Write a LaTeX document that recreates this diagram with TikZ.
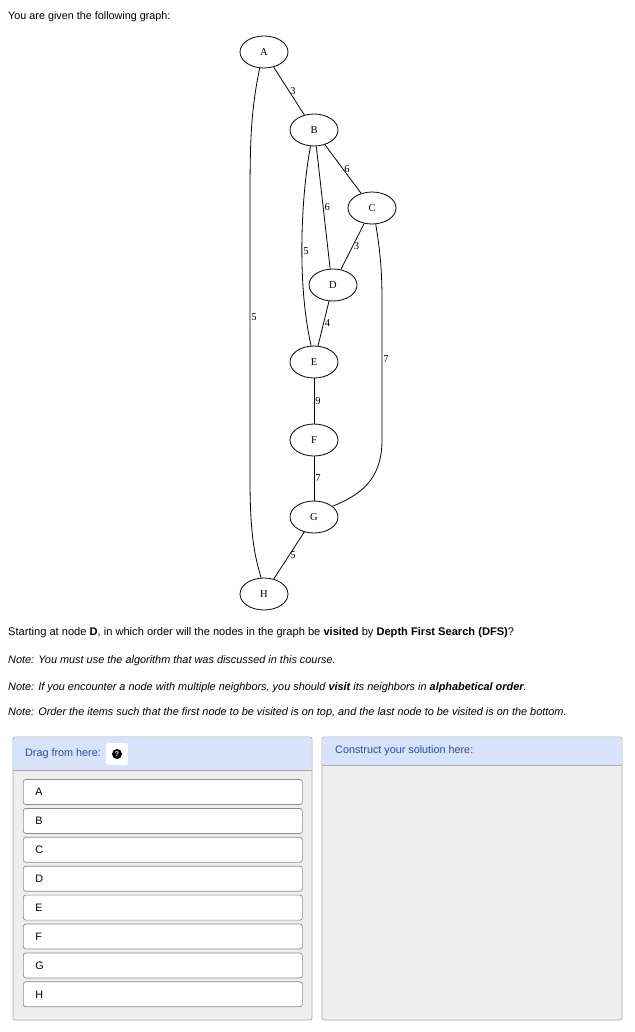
\documentclass[tikz,border=0pt]{standalone}
\usepackage{fontspec}
\setmainfont{Liberation Sans}
\newfontfamily\graphfont{Liberation Serif}
\usepackage{xcolor}
\usepackage{tikz}
\usetikzlibrary{shapes.geometric,positioning,calc}

\definecolor{hdrblue}{HTML}{D6E3FA}
\definecolor{hdrtext}{HTML}{2C4C9C}
\definecolor{panelgray}{HTML}{EEEEEE}
\definecolor{panelline}{HTML}{ABABAB}
\definecolor{itemline}{HTML}{8A8A8A}

\tikzset{
	gnode/.style={draw, ellipse, minimum width=48pt, minimum height=32pt, inner sep=0pt, line width=0.8pt, font=\graphfont\fontsize{10.5}{12}\selectfont},
	gedge/.style={line width=0.8pt},
	wlabel/.style={font=\graphfont\fontsize{10.5}{12}\selectfont, inner sep=1pt, right},
	prose/.style={anchor=west, inner sep=0pt, font=\fontsize{11.1}{13}\selectfont},
	note/.style={prose, font=\fontsize{10.9}{13}\selectfont\itshape},
	panel/.style={draw=panelline, fill=panelgray, line width=0.7pt, rounded corners=2pt},
	hdr/.style={anchor=west, inner sep=0pt, text=hdrtext, font=\fontsize{10.8}{13}\selectfont},
	itembox/.style={draw=itemline, fill=white, line width=0.7pt, rounded corners=2.5pt, anchor=west, minimum height=25pt, text width=255pt, inner xsep=12pt, align=left, font=\fontsize{10.8}{13}\selectfont}
}

\begin{document}
\begin{tikzpicture}[x=1pt, y=-1pt]
		\useasboundingbox[fill=white] (0,0) rectangle (634,1032);

		\node[prose, font=\fontsize{10.8}{13}\selectfont] (intro) at (8,17) {You are given the following graph:};

		\node[gnode] (A) at (264,52) {A};
		\node[gnode] (B) at (314,130) {B};
		\node[gnode] (C) at (372,208) {C};
		\node[gnode] (D) at (333,285) {D};
		\node[gnode] (E) at (314,362) {E};
		\node[gnode] (F) at (314,440) {F};
		\node[gnode] (G) at (314,517) {G};
		\node[gnode] (H) at (264,594) {H};

		\draw[gedge] (A) -- node[wlabel] {3} (B);
		\draw[gedge] (A.255) .. controls (251,110) and (250,140) .. (250,200) -- node[wlabel, pos=0.42] {5} (250,480) .. controls (250,540) and (256,560) .. (H.100);
		\draw[gedge] (B) -- node[wlabel] {6} (C);
		\draw[gedge] (B.278) -- node[wlabel] {6} (D.100);
		\draw[gedge] (B.258) .. controls (302,190) and (296,280) .. node[wlabel, pos=0.56] {5} (E.100);
		\draw[gedge] (C) -- node[wlabel] {3} (D);
		\draw[gedge] (C.283) .. controls (380,250) and (382,270) .. (382,300) -- node[wlabel, pos=0.42] {7} (382,440) .. controls (382,480) and (360,495) .. (G.30);
		\draw[gedge] (D) -- node[wlabel] {4} (E);
		\draw[gedge] (E) -- node[wlabel] {9} (F);
		\draw[gedge] (F) -- node[wlabel] {7} (G);
		\draw[gedge] (G) -- node[wlabel] {5} (H);

		\node[prose] (question) at (8,633) {Starting at node \textbf{D}, in which order will the nodes in the graph be \textbf{visited} by \textbf{Depth First Search (DFS)}?};
		\node[note] (note1) at (8,661) {Note: You must use the algorithm that was discussed in this course.};
		\node[note] (note2) at (8,688) {Note: If you encounter a node with multiple neighbors, you should \textbf{visit} its neighbors in \textbf{alphabetical order}.};
		\node[note] (note3) at (8,713) {Note: Order the items such that the first node to be visited is on top, and the last node to be visited is on the bottom.};

		\draw[panel] (13,737) rectangle (312,1020);
		\fill[hdrblue, rounded corners=2pt] (13.4,737.4) -- (311.6,737.4) -- (311.6,770) -- (13.4,770) -- cycle;
		\draw[panelline, line width=0.7pt] (13,770) -- (312,770);
		\node[hdr] (draghdr) at (25,754) {Drag from here:};
		\fill[white, rounded corners=2pt] (106,743) rectangle (128,765);
		\node[circle, fill=black, minimum size=10pt, inner sep=0pt, text=white, font=\fontsize{7}{7}\selectfont\bfseries] (help) at (117,754) {?};

		\foreach \name [count=\i from 0] in {A,B,C,D,E,F,G,H}
			\node[itembox] (item\name) at (23,{792+28.9*\i}) {\name};

		\draw[panel] (322,737) rectangle (622,1020);
		\fill[hdrblue, rounded corners=2pt] (322.4,737.4) -- (621.6,737.4) -- (621.6,765) -- (322.4,765) -- cycle;
		\draw[panelline, line width=0.7pt] (322,765) -- (622,765);
		\node[hdr] (solhdr) at (335,751) {Construct your solution here:};
	\end{tikzpicture}
\end{document}
